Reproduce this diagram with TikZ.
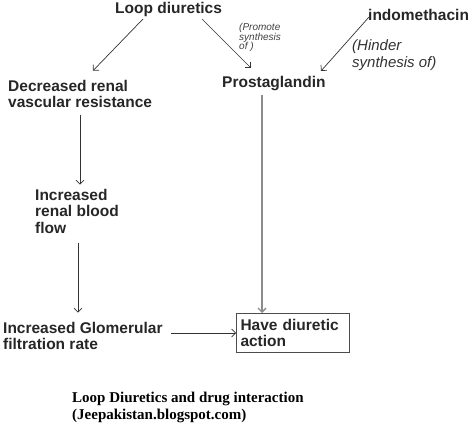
\documentclass[tikz,border=0pt]{standalone}
\usepackage{fontspec}
\setmainfont{Liberation Serif}
\setsansfont{Liberation Sans}
\usetikzlibrary{calc,arrows.meta}

\begin{document}
\begin{tikzpicture}[x=1pt,y=-1pt,inner sep=0pt,
  lbl/.style={font=\sffamily\bfseries\fontsize{15.5}{16.5}\selectfont,align=left,text=black!85},
  note/.style={font=\sffamily\itshape\fontsize{15}{16.5}\selectfont,align=left,text=black!80},
  tiny/.style={font=\sffamily\itshape\fontsize{10}{9.5}\selectfont,align=left,text=black!75},
  arr/.style={draw=black!80,line width=0.7pt,-{Straight Barb[length=4pt,width=8pt]}},
  garr/.style={draw=black!45,line width=1.4pt,-{Straight Barb[length=4pt,width=8pt]}}]
\useasboundingbox (0,0) rectangle (476,433);
%Top
\node at (115,14)[lbl,anchor=base west] (loop) {Loop diuretics} ;
\node at (368,21)[lbl,anchor=base west] (indo) {indomethacin} ;
\node at (239,23.5)[tiny,anchor=north west] (prom) {(Promote\\synthesis\\of )} ;
\node at (352,39.5)[note,anchor=north west] (hind) {(Hinder\\synthesis of)} ;
%Middle
\node at (8,79.7)[lbl,anchor=north west] (drv) {Decreased renal\\vascular resistance} ;
\node at (222,88)[lbl,anchor=base west] (prost) {Prostaglandin} ;
\node at (35,188.7)[lbl,anchor=north west] (rbf) {Increased\\renal blood\\flow} ;
%Bottom
\node at (3,321.7)[lbl,anchor=north west] (gfr) {Increased Glomerular\\filtration rate} ;
\node at (236,313)[lbl,anchor=north west,draw=black!70,line width=1pt,text width=105pt,
  inner xsep=4pt,minimum height=39pt] (act) {Have diuretic\\action} ;
%Caption
\node at (72,391.7)[font=\bfseries\fontsize{15}{17}\selectfont,align=left,anchor=north west] (cap)
  {Loop Diuretics and drug interaction\\(Jeepakistan.blogspot.com)} ;
%Arrows
\draw[arr] ($(loop.base west)+(28,5)$) -- ($(drv.north west)+(85,-9)$);
\draw[arr] ($(loop.base west)+(87,5)$) -- ($(prost.base west)+(29,-20)$);
\draw[arr] ($(indo.base west)+(1,-4)$) -- ($(prost.base west)+(99,-17)$);
\draw[arr] ($(drv.north west)+(72,35)$) -- ($(rbf.north west)+(45,-4)$);
\draw[arr] ($(rbf.north west)+(43,54)$) -- ($(gfr.north west)+(75,-9)$);
\draw[garr] ($(prost.base west)+(40,7)$) -- ($(act.north west)+(26,0)$);
\draw[arr] ($(act.west)+(-65,0)$) -- (act.west);
\end{tikzpicture}
\end{document}
